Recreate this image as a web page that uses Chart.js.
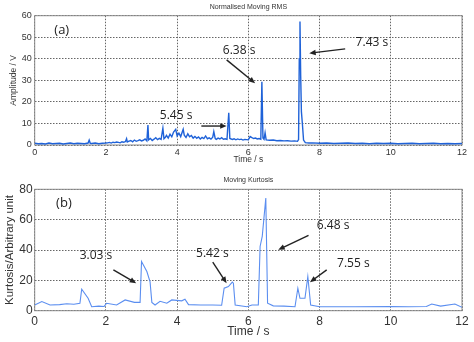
<!DOCTYPE html>
<html>
<head>
<meta charset="utf-8">
<script src="https://cdn.jsdelivr.net/npm/chart.js@4/dist/chart.umd.min.js"></script>
<style>
  body { margin: 0; background: #fff; }
  .wrap { position: absolute; left: 0; width: 474px; }
  #top { top: 0; height: 170px; }
  #bot { top: 170px; height: 172px; }
</style>
</head>
<body>
<div class="wrap" id="top"><canvas id="rmsChart" width="474" height="170"></canvas></div>
<div class="wrap" id="bot"><canvas id="kurtChart" width="474" height="172"></canvas></div>
<script>
// (a) normalised moving RMS
const rmsTime = [
  0, 0.1, 0.2, 0.3, 0.4, 0.5, 0.6, 0.7, 0.8, 0.9, 1.0, 1.1, 1.2, 1.3, 1.4, 1.5, 1.53, 1.56, 1.6, 1.7, 1.8, 1.9, 2.0,
  2.05, 2.1, 2.15, 2.2, 2.25, 2.3, 2.35, 2.4, 2.45, 2.5, 2.55, 2.58, 2.6, 2.65, 2.7, 2.75, 2.8, 2.85, 2.9, 2.95, 3.0,
  3.05, 3.1, 3.15, 3.18, 3.2, 3.25, 3.3, 3.35, 3.4, 3.45, 3.5, 3.55, 3.6, 3.63, 3.67, 3.7, 3.75, 3.8, 3.85, 3.9, 3.96,
  4.0, 4.05, 4.1, 4.17, 4.2, 4.25, 4.3, 4.35, 4.4, 4.45, 4.5, 4.55, 4.6, 4.65, 4.7, 4.75, 4.8, 4.85, 4.9, 4.95, 5.0,
  5.03, 5.07, 5.1, 5.15, 5.2, 5.25, 5.3, 5.35, 5.4, 5.45, 5.48, 5.55, 5.6, 5.65, 5.7, 5.75, 5.8, 5.85, 5.9, 5.95, 6.0,
  6.05, 6.1, 6.15, 6.2, 6.25, 6.3, 6.35, 6.38, 6.41, 6.44, 6.47, 6.5, 6.6, 6.7, 6.8, 6.9, 7.0, 7.1, 7.2, 7.3, 7.38,
  7.41, 7.43, 7.45, 7.47, 7.49, 7.52, 7.55, 7.6, 7.7, 7.8, 8.0, 8.2, 8.4, 8.6, 8.8, 9.0, 9.2, 9.4, 9.6, 9.8, 10.0,
  10.2, 10.4, 10.6, 10.8, 11.0, 11.2, 11.4, 11.6, 11.8, 12.0
];
const rmsValue = [
  0.8, 0.6, 0.7, 0.5, 0.9, 0.6, 0.7, 0.8, 0.5, 0.7, 0.9, 0.6, 0.8, 0.7, 0.6, 0.9, 2.3, 0.8, 0.7, 0.9, 0.6, 0.8, 0.9,
  1.0, 1.2, 0.9, 1.3, 1.1, 1.4, 1.2, 1.0, 1.5, 1.3, 1.6, 2.9, 1.4, 1.8, 2.1, 1.5, 2.3, 1.7, 2.0, 2.4, 1.9,
  2.2, 2.8, 1.9, 9.3, 2.4, 3.0, 2.1, 2.7, 3.4, 2.5, 3.1, 2.6, 7.8, 2.9, 3.6, 4.5, 3.2, 5.0, 3.8, 6.0, 7.3,
  4.2, 5.5, 3.9, 7.3, 4.6, 3.5, 5.2, 3.8, 4.4, 3.2, 4.0, 3.1, 3.7, 2.8, 3.5, 3.0, 4.2, 2.9, 3.3, 2.7, 3.6,
  6.2, 3.0, 2.6, 3.2, 2.8, 3.4, 2.7, 2.9, 2.6, 15.0, 3.0, 2.6, 2.9, 2.4, 2.8, 2.5, 2.7, 2.3, 2.6, 2.5, 2.4,
  3.9, 3.4, 3.0, 3.2, 2.8, 3.0, 2.7, 29.4, 3.2, 2.6, 5.7, 2.4, 2.2, 2.3, 2.0, 2.1, 1.9, 2.0, 1.8, 1.9, 1.7,
  2.5, 40, 57.3, 32, 15.5, 9.3, 2.3, 1.1, 0.9, 1.0, 0.8, 0.9, 0.7, 0.8, 0.9, 0.7, 0.8, 0.6, 0.8, 0.7, 0.8,
  0.6, 0.7, 0.8, 0.6, 0.7, 0.8, 0.6, 0.7, 0.6, 0.7
];

// (b) moving kurtosis
const kurtTime = [
  0, 0.2, 0.43, 0.7, 0.9, 1.1, 1.27, 1.32, 1.5, 1.6, 1.8, 1.95, 2.02, 2.3, 2.54, 2.8, 2.96, 3.0, 3.15, 3.24, 3.29,
  3.38, 3.52, 3.71, 3.85, 4.13, 4.22, 4.32, 4.66, 5.0, 5.25, 5.32, 5.44, 5.55, 5.58, 5.63, 5.96, 6.1, 6.28, 6.33,
  6.39, 6.49, 6.54, 6.7, 7.0, 7.31, 7.39, 7.45, 7.59, 7.67, 7.75, 8.0, 9.0, 10.0, 10.5, 11.0, 11.15, 11.4, 11.8, 12
];
const kurtValue = [
  3.8, 6, 3.8, 4, 4.6, 4.3, 4.9, 14.1, 8.2, 2.6, 3.0, 2.8, 4.9, 3.8, 7.1, 5.5, 5.5, 32.4, 25.8, 19, 5.5,
  3.8, 6.2, 4.9, 7.1, 6.5, 7.6, 4, 3.8, 3.8, 3.6, 14.8, 15.9, 18.8, 18.1, 3.8, 2.6, 3.8, 3.8, 42.3,
  49, 74.3, 4.9, 3.2, 3.0, 2.6, 14.8, 8.2, 8.2, 22.5, 3.8, 2.6, 2.6, 2.8, 2.6, 2.8, 4.4, 3, 4.4, 2.2
];

// labels and arrows, in data coordinates
const rmsLabels = [
  { text: '(a)', x: 0.76, y: 53, size: 13 },
  { text: '5.45 s', x: 3.97, y: 13.5, size: 12 },
  { text: '6.38 s', x: 5.74, y: 43.9, size: 12 },
  { text: '7.43 s', x: 9.47, y: 47.3, size: 12 }
];
const rmsArrows = [
  [4.68, 8.8, 5.39, 8.8],
  [5.39, 39.5, 6.19, 28.7],
  [8.72, 44.6, 7.71, 42.6]
];
const kurtLabels = [
  { text: '(b)', x: 0.82, y: 70.5, size: 13 },
  { text: '3.03 s', x: 1.72, y: 36.2, size: 12 },
  { text: '5.42 s', x: 4.99, y: 37.9, size: 12 },
  { text: '6.48 s', x: 8.38, y: 56, size: 12 },
  { text: '7.55 s', x: 8.95, y: 30.9, size: 12 }
];
const kurtArrows = [
  [2.21, 26.9, 2.85, 18.1],
  [5.0, 32, 5.39, 18.1],
  [7.69, 49.6, 6.84, 40.1],
  [8.2, 26.9, 7.73, 18.8]
];

const frame = {
  id: 'frame',
  beforeDatasetsDraw(chart) {
    const a = chart.chartArea, c = chart.ctx;
    c.save();
    c.strokeStyle = '#8a8a8a';
    c.lineWidth = 1;
    c.strokeRect(a.left, a.top, a.right - a.left, a.bottom - a.top);
    c.restore();
  }
};

const notes = {
  id: 'notes',
  afterDatasetsDraw(chart, args, opts) {
    const c = chart.ctx, xs = chart.scales.x, ys = chart.scales.y;
    c.save();
    c.fillStyle = '#222';
    c.textAlign = 'center';
    c.textBaseline = 'middle';
    opts.labels.forEach(l => {
      c.font = l.size + 'px "Open Sans"';
      c.fillText(l.text, xs.getPixelForValue(l.x), ys.getPixelForValue(l.y));
    });
    c.strokeStyle = '#222';
    c.lineWidth = 1.4;
    opts.arrows.forEach(a => {
      const x1 = xs.getPixelForValue(a[0]), y1 = ys.getPixelForValue(a[1]);
      const x2 = xs.getPixelForValue(a[2]), y2 = ys.getPixelForValue(a[3]);
      const ang = Math.atan2(y2 - y1, x2 - x1);
      c.beginPath();
      c.moveTo(x1, y1);
      c.lineTo(x2 - 5 * Math.cos(ang), y2 - 5 * Math.sin(ang));
      c.stroke();
      c.beginPath();
      c.moveTo(x2, y2);
      c.lineTo(x2 - 7 * Math.cos(ang - 0.4), y2 - 7 * Math.sin(ang - 0.4));
      c.lineTo(x2 - 7 * Math.cos(ang + 0.4), y2 - 7 * Math.sin(ang + 0.4));
      c.closePath();
      c.fill();
    });
    c.restore();
  }
};

function makeChart(id, cfg) {
  const pts = cfg.time.map((t, i) => ({ x: t, y: cfg.value[i] }));
  return new Chart(document.getElementById(id), {
    type: 'line',
    data: {
      datasets: [{
        data: pts,
        borderColor: cfg.color,
        borderWidth: cfg.width,
        pointRadius: 0,
        tension: 0
      }]
    },
    options: {
      responsive: false,
      animation: false,
      layout: { padding: { left: 0, right: 12, top: 0, bottom: 0 } },
      plugins: {
        legend: { display: false },
        tooltip: { enabled: false },
        title: {
          display: true,
          text: cfg.title,
          fullSize: false,
          color: '#333',
          font: { family: '"Liberation Sans"', size: 7, weight: 'normal' },
          padding: cfg.titlePad
        },
        notes: { labels: cfg.labels, arrows: cfg.arrows }
      },
      scales: {
        x: {
          type: 'linear',
          min: 0, max: 12,
          afterFit: s => { s.height = cfg.xHeight; },
          ticks: { stepSize: 2, color: '#333', padding: cfg.xTickPad, maxRotation: 0,
                   font: { family: '"Liberation Sans"', size: cfg.tickSize } },
          grid: { color: '#666', drawTicks: false },
          border: { display: false, dash: [1.5, 1.5] },
          title: { display: true, text: 'Time / s', color: '#333',
                   font: { family: '"Liberation Sans"', size: cfg.xTitleSize },
                   padding: { top: 0, bottom: cfg.xTitlePad } }
        },
        y: {
          min: 0, max: cfg.yMax,
          afterFit: s => { s.width = 34.7; },
          ticks: { stepSize: cfg.yStep, color: '#333', padding: cfg.yTickPad,
                   font: { family: '"Liberation Sans"', size: cfg.tickSize } },
          grid: { color: '#666', drawTicks: false },
          border: { display: false, dash: [1.5, 1.5] },
          title: { display: true, text: cfg.yTitle, color: '#333',
                   font: { family: '"Liberation Sans"', size: cfg.yTitleSize },
                   padding: { top: cfg.yTitlePad, bottom: 0 } }
        }
      }
    },
    plugins: [frame, notes]
  });
}

makeChart('rmsChart', {
  time: rmsTime, value: rmsValue, color: '#1f62d8', width: 1.4,
  title: 'Normalised Moving RMS', titlePad: { top: 2.8, bottom: 4.5 },
  yMax: 60, yStep: 10, yTitle: 'Amplitude / V', yTitleSize: 8.5, yTitlePad: 8.9,
  tickSize: 9, xTickPad: 2, yTickPad: 3, xHeight: 25, xTitleSize: 8.5, xTitlePad: 4.9,
  labels: rmsLabels, arrows: rmsArrows
});

makeChart('kurtChart', {
  time: kurtTime, value: kurtValue, color: '#5b8ef0', width: 1.1,
  title: 'Moving Kurtosis', titlePad: { top: 5.8, bottom: 5.1 },
  yMax: 80, yStep: 20, yTitle: 'Kurtosis/Arbitrary unit', yTitleSize: 11.5, yTitlePad: 3.1,
  tickSize: 12, xTickPad: 4, yTickPad: 2, xHeight: 31.3, xTitleSize: 12, xTitlePad: 2.8,
  labels: kurtLabels, arrows: kurtArrows
});
</script>
</body>
</html>
